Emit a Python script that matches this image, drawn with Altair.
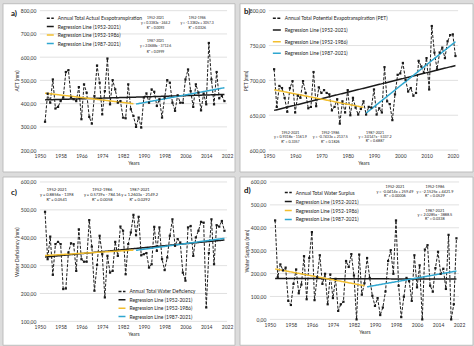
import altair as alt
import pandas as pd
import numpy as np

years = list(range(1952, 2022))

aet = [322, 443, 404, 504, 379, 386, 411, 426, 536, 544,
       426, 419, 411, 471, 333, 483, 447, 343, 314, 433,
       564, 490, 354, 454, 594, 397, 501, 461, 404, 411,
       340, 337, 483, 376, 347, 300, 340, 297, 426, 444,
       404, 461, 451, 390, 419, 340, 426, 501, 490, 404,
       369, 436, 404, 404, 504, 547, 454, 386, 483, 447,
       371, 443, 397, 661, 504, 397, 536, 423, 433, 411]

pet = [716, 662, 692, 689, 675, 655, 689, 699, 654, 678,
       675, 699, 682, 660, 662, 712, 663, 690, 682, 686,
       682, 680, 657, 662, 673, 638, 670, 654, 686, 650,
       675, 661, 651, 659, 670, 651, 662, 661, 687, 651,
       660, 654, 719, 670, 666, 643, 680, 708, 710, 725,
       701, 684, 689, 678, 682, 728, 720, 711, 732, 687,
       778, 740, 716, 740, 747, 732, 756, 765, 766, 735]

wdef = [493, 323, 404, 267, 377, 385, 377, 216, 218, 347,
        380, 377, 281, 430, 323, 314, 314, 463, 368, 210,
        302, 407, 341, 186, 335, 275, 281, 385, 335, 440,
        425, 269, 377, 419, 482, 409, 475, 337, 341, 345,
        293, 305, 439, 353, 437, 323, 284, 329, 407, 466,
        371, 395, 383, 275, 246, 437, 442, 335, 401, 425,
        457, 454, 150, 345, 466, 305, 445, 440, 460, 425]

wsur = [432, 184, 240, 214, 226, 81, 63, 155, 218, 114,
        152, 276, 88, 268, 381, 84, 184, 280, 155, 199,
        66, 196, 93, 177, 37, 66, 77, 255, 229, 285,
        192, 0, 283, 108, 158, 268, 181, 103, 59, 93,
        19, 52, 122, 255, 302, 199, 432, 147, 10, 99,
        181, 167, 81, 280, 140, 236, 0, 305, 324, 147,
        121, 224, 295, 199, 221, 133, 369, 0, 66, 354]

periods = ["1952-2021", "1952-1986", "1987-2021"]
period_start = [1952, 1952, 1987]
period_end = [2021, 1986, 2021]

aet_slope = [0.3383, -1.3382, 2.0688]
aet_icpt = [-244.2, 3057.3, -3712.6]
aet_r2 = [0.0093, 0.0326, 0.0999]

pet_slope = [0.9318, -0.7433, 3.0147]
pet_icpt = [-1161.9, 2137.5, -5337.2]
pet_r2 = [0.3357, 0.1826, 0.6887]

wdef_slope = [0.8856, 0.5739, 1.2603]
wdef_icpt = [-1398, -784.16, -2149.2]
wdef_r2 = [0.0541, 0.0058, 0.0292]

wsur_slope = [-0.0414, -2.1525, 2.0285]
wsur_icpt = [259.49, 4421.9, -3888.5]
wsur_r2 = [0.00006, 0.0529, 0.0338]

ticks_8 = [1950, 1958, 1966, 1974, 1982, 1990, 1998, 2006, 2014, 2022]
ticks_10 = [1950, 1960, 1970, 1980, 1990, 2000, 2010, 2020]

FONT = "Lato"
BLACK = "#1a1a1a"
YELLOW = "#F2BE2E"
CYAN = "#2FA7D0"


def fmt(v):
    return np.format_float_positional(v, trim="-")


def equation(a, b):
    sign = "+" if b >= 0 else "-"
    return f"y = {fmt(a)}x {sign} {fmt(abs(b))}"


def panel(vals, name, slopes, icpts, r2s, ytitle, ydom, ystep, xticks, w, h,
          frame, letter, letter_pos, leg, ann, ann_font):
    data = pd.DataFrame({"year": years, "value": vals, "series": name})
    regs = []
    for p, s, e, a, b in zip(periods, period_start, period_end, slopes, icpts):
        for x in (s, e):
            regs.append({"year": x, "value": a * x + b, "series": f"Regression Line ({p})"})
    regs = pd.DataFrame(regs)
    domain = [name] + [f"Regression Line ({p})" for p in periods]
    yticks = list(range(ydom[0], ydom[1] + 1, ystep))

    legend = alt.Legend(orient="none", legendX=leg[0], legendY=leg[1], title=None,
                        symbolType="stroke", symbolSize=leg[2], symbolStrokeWidth=1.5,
                        labelFontSize=5, labelFont=FONT, labelColor="#222",
                        rowPadding=leg[3], labelOffset=3, padding=0, zindex=1,
                        labelLimit=300)
    color = alt.Color("series:N", scale=alt.Scale(domain=domain, range=[BLACK, BLACK, YELLOW, CYAN]),
                      legend=legend)
    dash = alt.StrokeDash("series:N", scale=alt.Scale(domain=domain, range=[[3, 1.5], [1, 0], [1, 0], [1, 0]]),
                          legend=legend)
    x = alt.X("year:Q", scale=alt.Scale(domain=[1950, 2022], nice=False, zero=False),
              axis=alt.Axis(values=xticks, format="d", title="Years", grid=False, domain=False,
                            ticks=False, labelFontSize=5, titleFontSize=5, labelFont=FONT,
                            titleFont=FONT, labelPadding=3, titlePadding=2.5, labelColor="#333",
                            titleColor="#333", titleFontWeight="normal", zindex=1,
                            labelFlush=False))
    y = alt.Y("value:Q", scale=alt.Scale(domain=ydom, nice=False, zero=False),
              axis=alt.Axis(values=yticks, labelExpr="replace(format(datum.value, '.2f'), '.', ',')",
                            title=ytitle, grid=False, domain=False, ticks=False, labelFontSize=5,
                            titleFontSize=5, labelFont=FONT, titleFont=FONT, labelPadding=4,
                            titlePadding=1, labelColor="#333", titleColor="#333",
                            titleFontWeight="normal", zindex=1))

    one = pd.DataFrame({"k": [0]})
    bg = alt.Chart(one).mark_rect(fill="white", stroke="#bdbdbd", strokeWidth=1).encode(
        x=alt.value(frame[0]), x2=alt.value(frame[1]), y=alt.value(frame[2]), y2=alt.value(frame[3]))
    grid = alt.Chart(pd.DataFrame({"value": yticks})).mark_rule(color="#d9d9d9", strokeWidth=0.8).encode(y=y)
    line = alt.Chart(data).mark_line(strokeWidth=1).encode(x=x, y=y, color=color, strokeDash=dash)
    pts = alt.Chart(data).mark_square(size=5, color=BLACK, opacity=1).encode(x=x, y=y)
    reg = alt.Chart(regs).mark_line(strokeWidth=1.5).encode(x=x, y=y, color=color, strokeDash=dash,
                                                           detail="series:N")
    ann_df = pd.DataFrame({
        "year": [a[0] for a in ann],
        "value": [a[1] for a in ann],
        "text": [f"{p}\n{equation(s, b)}\nR² = {fmt(r)}" for p, s, b, r in zip(periods, slopes, icpts, r2s)],
    })
    txt = alt.Chart(ann_df).mark_text(fontSize=ann_font[0], lineHeight=ann_font[1], baseline="top",
                                      align="center", font=FONT, color="#222", lineBreak="\n").encode(
        x=x, y=y, text="text:N")
    let = alt.Chart(one).mark_text(text=letter, fontSize=8, fontWeight="bold", font=FONT, align="left",
                                   baseline="middle", color="#111").encode(
        x=alt.value(letter_pos[0]), y=alt.value(letter_pos[1]))
    return alt.layer(bg, grid, line, reg, pts, txt, let).properties(width=w, height=h)


pa = panel(aet, "Annual Total Actual Evapotranspiration", aet_slope, aet_icpt, aet_r2,
           "AET (mm)", [200, 800], 100, ticks_8, 188, 140,
           [-37, 196, -7, 162], "a)", [-29, 3.5], [6, 3, 49, 0.5],
           [[1994.5, 777], [2010.5, 777], [1994.5, 677]], [3.4, 5.2])
pb = panel(pet, "Annual Total Potential Evapotranspiration (PET)", pet_slope, pet_icpt, pet_r2,
           "PET (mm)", [600, 800], 50, ticks_10, 190, 140,
           [-29, 205, -7, 162], "b)", [-25, 1.5], [3, 2.7, 64, 3.7],
           [[1958.2, 627], [1973.4, 627], [1990.4, 628]], [3.6, 4.2])
pc = panel(wdef, "Annual Total Water Deficiency", wdef_slope, wdef_icpt, wdef_r2,
           "Water Deficiency (mm)", [100, 600], 100, ticks_8, 188, 140,
           [-37, 196, -5, 164], "c)", [-29, 11], [78, 105.5, 49, 0.4],
           [[1956.5, 577], [1974, 577], [1988.4, 577]], [4.0, 5.0])
pd_ = panel(wsur, "Annual Total Water Surplus", wsur_slope, wsur_icpt, wsur_r2,
            "Water Surplus (mm)", [0, 600], 100, ticks_8, 190, 138,
            [-30, 204, -5, 164], "d)", [-26, 9.5], [14, 6.2, 49, 1],
            [[1997.6, 585], [2012.8, 585], [2012.8, 484]], [3.8, 4.2])

res = dict(color="independent", strokeDash="independent", x="independent", y="independent")
row1 = alt.hconcat(pa, pb, spacing=3).resolve_scale(**res).resolve_legend(color="independent", strokeDash="independent")
row2 = alt.hconcat(pc, pd_, spacing=3).resolve_scale(**res).resolve_legend(color="independent", strokeDash="independent")
chart = alt.vconcat(row1, row2, spacing=3).resolve_scale(**res).resolve_legend(
    color="independent", strokeDash="independent").properties(
    padding={"left": 2, "top": 2, "right": 0, "bottom": 0},
    background="#dcdcdc",
).configure_view(strokeWidth=0)

chart.save("out.html", embed_options={"renderer": "svg", "actions": False})
